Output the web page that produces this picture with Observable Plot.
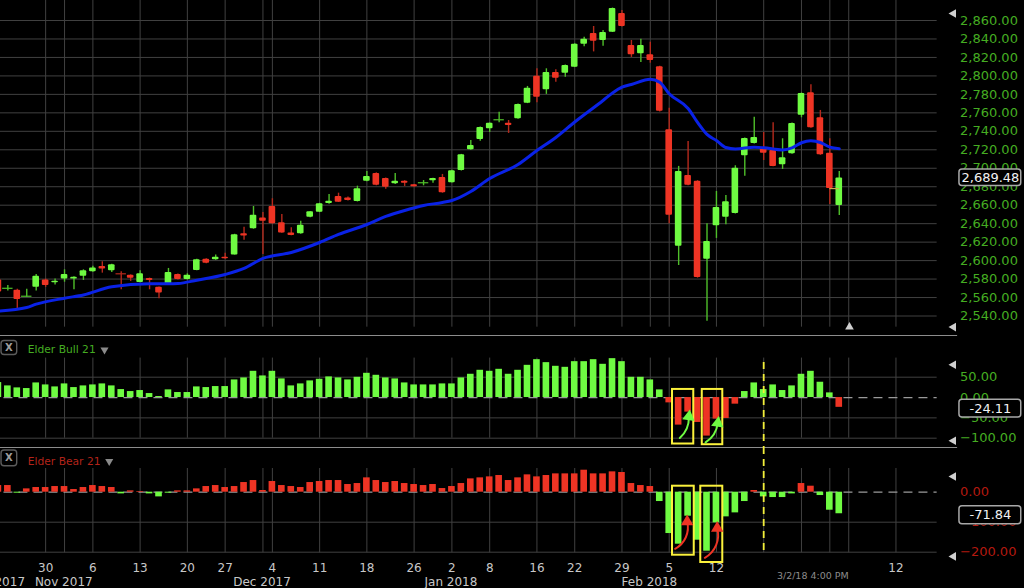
<!DOCTYPE html>
<html><head><meta charset="utf-8">
<style>html,body{margin:0;padding:0;background:#000;overflow:hidden}svg{display:block}</style>
<script src="https://cdn.jsdelivr.net/npm/d3@7"></script>
<script src="https://cdn.jsdelivr.net/npm/@observablehq/plot@0.6"></script>
</head><body><div id="chart"></div>
<script>
const opens=[2579,2569.5,2568,2560.8,2571,2579,2576,2580,2580,2583,2588,2593.6,2589,2586.8,2584,2576.3,2580.6,2571,2574,2585,2579.5,2589.3,2601.5,2601,2603.7,2606,2629,2634.5,2646,2658.6,2641,2630,2629,2647,2652.4,2661.8,2669.4,2667.8,2664,2686,2694.3,2689,2683.2,2686,2682,2683.3,2686.4,2690,2684.3,2697.6,2720,2731.2,2742.7,2751.7,2748.8,2753.6,2770.5,2799.7,2785,2803.7,2803,2809.5,2834.4,2846,2838.4,2847.4,2867.6,2833,2824,2823,2810,2741.7,2615.6,2692.2,2686,2601.5,2637.7,2647,2651,2713.5,2726.8,2721,2719.2,2703.8,2715.7,2757.5,2781.7,2754.7,2716.3,2659.7];
const highs=[2580,2573,2569,2569,2585,2580,2580,2590,2582.5,2590,2594,2598.7,2596,2588,2584.5,2589,2581,2571.5,2591.5,2585.5,2585.7,2601.5,2602,2606,2608,2628.5,2636,2658.6,2652,2667,2650,2635.5,2642.7,2653,2662,2671.6,2673,2669,2680.6,2696.5,2695,2689.5,2694.3,2686.5,2682.5,2686.7,2689.3,2693.3,2697.8,2715,2730,2744.7,2749,2760.7,2751.7,2769.5,2788.6,2807.7,2807.7,2806.6,2811.8,2834.9,2841.9,2853.5,2849.2,2873.5,2870.9,2838.4,2839.8,2836.5,2810.5,2765,2702,2729,2686.5,2640,2674.8,2670.5,2702.7,2732.7,2755.3,2738.7,2749.2,2731.9,2749,2781.5,2790.4,2762.6,2731.9,2696.5];
const lows=[2565,2567,2548,2560.4,2567,2571,2573.5,2576.6,2568.5,2578.5,2587.5,2586.4,2587,2568.4,2577.4,2576,2568.4,2558.6,2573.5,2579,2579,2589,2596.5,2600.5,2601.5,2606,2622,2634,2606.6,2639.5,2629.5,2627,2628.5,2646.5,2652,2661,2663,2664.5,2663.5,2685.5,2681,2677.3,2682.5,2680.3,2679.5,2681,2683.8,2673,2684,2697,2719.5,2729.3,2738.7,2749.2,2737.7,2753,2770,2771,2780,2793.2,2798.6,2809,2831.6,2826,2832.2,2847,2853,2820,2814.6,2813.8,2761,2640,2594.7,2681,2581,2534.4,2624,2638.8,2650.5,2691.4,2726.3,2708.4,2701.5,2698.7,2715.2,2754.7,2743.3,2714,2660.8,2648.9];
const closes=[2566,2570,2558,2561.4,2583,2573,2577.5,2585,2582,2589,2592,2591,2595.5,2585.7,2581,2585.7,2578.5,2565,2587,2579.5,2584,2601,2597,2603.7,2602,2628,2626.5,2649,2642.7,2640,2630,2627.2,2638.3,2653,2661.5,2664.3,2663.3,2665,2677.8,2691,2681.7,2679.5,2686,2683.8,2680,2684.3,2689,2673.4,2697.3,2714.6,2724.7,2744.2,2748.8,2752.5,2746.3,2769,2786.7,2777,2803.7,2797.5,2811.3,2834.4,2839.8,2837.6,2847,2873,2853.5,2823,2833,2816.7,2761.8,2649,2696.5,2681.7,2581.7,2620.7,2657.5,2663.7,2700,2732.2,2733.3,2716.3,2702,2711.3,2748.5,2781,2743.8,2714.6,2678,2689.48];
const bullPower=[36.8,28.6,23.7,22.1,35.9,31,26.1,33.5,24.5,28.6,31,33.5,28.6,19.6,14.7,17.2,9.8,2.5,18.8,12.3,12.3,26.1,24.5,27,27,43.3,48.2,64.5,53.1,64.5,45.8,28.6,33.5,40.9,44.9,50.7,48.2,43.3,49.8,59.6,54.7,48.2,45.8,35.9,31,31,31,33.5,33.5,48.2,57.2,67,64.5,69.4,57.2,67,79.2,93.1,85.8,76.8,74.3,88.2,88.2,93.1,81.7,95.6,88.2,49.8,49.8,43.3,18.8,-13.1,-67.8,-35.9,-61.3,-94.8,-53.1,-51.5,-16.3,14.7,35.9,19.6,31,17.2,28.6,57.2,64.5,37.6,11.4,-24.11];
const bearPower=[22.2,22.2,-3.3,11.1,15.6,15.6,18.9,18.9,8.9,15.6,22.2,18.9,15.6,-5.6,4.4,2.2,-5.6,-15.6,-3.3,4.4,4.4,11.1,18.9,22.2,15.6,18.9,32.2,38.9,5.6,35.6,22.2,18.9,15.6,32.2,35.6,38.9,38.9,25.6,28.9,47.8,38.9,32.2,35.6,28.9,25.6,22.2,25.6,12.2,18.9,28.9,44.4,47.8,51.1,55.6,38.9,47.8,57.8,51.1,55.6,61.1,61.1,61.1,73.3,61.1,61.1,67.8,65.6,28.9,22.2,18.9,-31.1,-137.8,-173.3,-80,-160,-196.7,-102.2,-82.2,-68.9,-31.1,5.6,-15.6,-17.8,-17.8,-5.6,28.9,20,-11.1,-60,-71.84];
const maIndex=[0,3,4,7,9,12,16,18,19,21,24,26,28,31,34,36,39,41,43,45,47,48,50,52,55,57,59,61,64,65,66,67,69,70,71,73,74,75,76,77,78,80,81,83,84,85,86,87,88,89];
const maValue=[2545.4,2549.2,2552.8,2559.3,2562.8,2571.6,2574.9,2574.9,2575.2,2578.8,2585,2591.5,2602.3,2608.8,2619.6,2628.3,2639.1,2647.8,2654.3,2659.7,2662.9,2665.1,2674.9,2688.9,2704.1,2719.2,2733.3,2750.1,2773.4,2781.5,2787.8,2790.7,2796.5,2793.2,2780.7,2764.7,2749.6,2736.6,2730,2722.5,2720.9,2722.8,2722.2,2719.8,2722,2727.6,2729.8,2727.9,2722.8,2721.1];
const priceTicks=[2860,2840,2820,2800,2780,2760,2740,2720,2700,2680,2660,2640,2620,2600,2580,2560,2540];
const bullTicks=[50,0,-50,-100];
const bearTicks=[0,-100,-200];
const gridIndex=[5,7,10,15,20,24,28,29,34,39,44,48,52,57,61,66,69,71,76,81,85,88,90,95];
const dayIndex=[5,10,15,20,24,29,34,39,44,48,52,57,61,66,71,76,95];
const dayLabels=["30","6","13","20","27","4","11","18","26","2","8","16","22","29","5","12","12"];
const monthPos=[-0.1,6.92,27.9,47.9,68.9];
const monthLabels=["Oct 2017","Nov 2017","Dec 2017","Jan 2018","Feb 2018"];

const GREEN="#6ffb42",RED="#ee3424",WG="#4fbf2a",WR="#b5291c",GRID="#404040";
const TXTG="#45ad22",TXTR="#b3190f",LBL="#c8c8c8";
const F="DejaVu Sans";
const xs=d3.range(opens.length);
const num=d3.format(",.2f");
const xOpt={domain:[0,100],range:[-2.1,942.7],axis:null};
const base={width:1024,marginTop:0,marginBottom:0,marginLeft:0,marginRight:68,style:{background:"#000",fontFamily:F,display:"block"},x:xOpt};
const XL=101.78,XE=99.36;

function labelBox(text,y1,y2,yt){return [
  Plot.rect([0],{x1:101.72,x2:108.26,y1:()=>y1,y2:()=>y2,fill:"#000",stroke:"#a8a8a8",strokeWidth:1.5,rx:3}),
  Plot.text([text],{x:105,y:()=>yt,text:d=>d,fill:"#f2f2f2",fontSize:13,fontFamily:F,textAnchor:"middle"})
];}
function tri(data,rot,fill="#cfcfcf",r=3.2){return Plot.dot(data,{x:d=>d[0],y:d=>d[1],symbol:"triangle",r,rotate:rot,fill,stroke:"none"});}
function bars(values){return [
  Plot.rect(xs,{x1:i=>i-0.35,x2:i=>i+0.35,y1:()=>0,y2:i=>values[i],fill:i=>values[i]>=0?"pos":"neg"})
];}
function gridX(y1,y2){return Plot.ruleX(gridIndex,{y1:()=>y1,y2:()=>y2,stroke:GRID,strokeWidth:1});}
function gridY(t){return Plot.ruleY(t,{x1:()=>-1,x2:()=>XE,stroke:GRID,strokeWidth:1});}
function tickText(t,fill){return Plot.text(t,{x:()=>XL,y:d=>d,text:d=>num(d),fill,fontSize:13,fontFamily:F,textAnchor:"start"});}

const main=Plot.plot({...base,height:335,
  y:{domain:[2860,2540],range:[20,315.5],axis:null},
  marks:[
    gridX(2881.7,2527.9),
    gridY(priceTicks),
    Plot.ruleX(xs,{y1:i=>lows[i],y2:i=>highs[i],stroke:i=>closes[i]>=opens[i]?WG:WR,strokeWidth:1.4}),
    Plot.ruleY(xs.filter(i=>Math.abs(opens[i]-closes[i])<1.15),{x1:i=>i-0.55,x2:i=>i+0.55,y:i=>closes[i],stroke:i=>closes[i]>=opens[i]?WG:WR,strokeWidth:1.2}),
    Plot.rect(xs.filter(i=>Math.abs(opens[i]-closes[i])>=1.15),{x1:i=>i-0.35,x2:i=>i+0.35,y1:i=>opens[i],y2:i=>closes[i],fill:i=>closes[i]>=opens[i]?GREEN:RED,rx:1}),
    Plot.ruleY([2678],{x1:()=>88,x2:()=>89,stroke:"#c9ab4c",strokeWidth:1.2}),
    Plot.line(maIndex,{x:d=>d,y:(d,i)=>maValue[i],stroke:"#0a22e6",strokeWidth:3,curve:"monotone-x"}),
    tickText(priceTicks,TXTG),
    ...labelBox("2,689.48",2698.7,2680.8,2689.48),
    tri([[101.09,2867.6]],-90),
    tri([[101.09,2528]],-90),
    tri([[90.08,2528]],0)
  ]});

const bull=Plot.plot({...base,height:112,
  y:{domain:[50,-100],range:[41.7,102.7],axis:null},
  color:{domain:["pos","neg"],range:[GREEN,RED]},
  marks:[
    Plot.frame({anchor:"top",stroke:"#8c8c8c",strokeWidth:1.2}),
    gridX(97,-100),
    gridY([50,-50,-100]),
    Plot.ruleY([0],{x1:()=>-1,x2:()=>XE,stroke:"#9a9a9a",strokeWidth:1.2,strokeDasharray:"9,6"}),
    ...bars(bullPower),
    Plot.ruleX([81],{y1:()=>86,y2:()=>-125,stroke:"#f2ee3a",strokeWidth:1.8,strokeDasharray:"7,5"}),
    Plot.rect([[71.35,73.6,19.9,-114.3],[74.5,76.67,19.9,-116]],{x1:d=>d[0],x2:d=>d[1],y1:d=>d[2],y2:d=>d[3],stroke:"#fbf13c",strokeWidth:2,fill:"none"}),
    Plot.arrow([[72.12,-99.6,73.08,-47],[74.85,-110.4,76.14,-63]],{x1:d=>d[0],y1:d=>d[1],x2:d=>d[2],y2:d=>d[3],bend:-25,stroke:GREEN,strokeWidth:2,headLength:0}),
    tri([[73.08,-47],[76.14,-63]],8,GREEN,4.6),
    tickText(bullTicks,TXTG),
    ...labelBox("-24.11",-5.4,-48.9,-27),
    Plot.rect([0],{x1:()=>0.33,x2:()=>1.99,y1:()=>138.9,y2:()=>104.5,fill:"none",stroke:"#5c5c5c",strokeWidth:1.4,rx:3}),
    Plot.text(["X"],{x:()=>1.12,y:()=>121.7,text:d=>d,fill:"#9c9c9c",fontSize:10,fontWeight:"bold",fontFamily:F}),
    Plot.text(["Elder Bull 21"],{x:()=>3.11,y:()=>117.5,text:d=>d,fill:TXTG,fontSize:10.7,fontFamily:F,textAnchor:"start"}),
    tri([[11.23,117.5]],180,"#8a8a8a",3),
    tri([[101.09,80.6],[101.09,-106.2]],-90)
  ]});

const bear=Plot.plot({...base,height:141,
  y:{domain:[0,-200],range:[44.7,104.7],axis:null},
  color:{domain:["pos","neg"],range:[RED,GREEN]},
  marks:[
    Plot.frame({anchor:"top",stroke:"#8c8c8c",strokeWidth:1.2}),
    gridX(79,-202),
    gridY([-100,-200]),
    Plot.ruleY([0],{x1:()=>-1,x2:()=>XE,stroke:"#9a9a9a",strokeWidth:1.2,strokeDasharray:"9,6"}),
    ...bars(bearPower),
    Plot.ruleX([81],{y1:()=>149,y2:()=>-201,stroke:"#f2ee3a",strokeWidth:1.8,strokeDasharray:"7,5"}),
    Plot.rect([[71.35,73.65,20,-210],[74.34,76.67,20,-234.3]],{x1:d=>d[0],x2:d=>d[1],y1:d=>d[2],y2:d=>d[3],stroke:"#fbf13c",strokeWidth:2,fill:"none"}),
    Plot.arrow([[71.63,-188.7,72.9,-98],[74.77,-218.7,76.08,-120]],{x1:d=>d[0],y1:d=>d[1],x2:d=>d[2],y2:d=>d[3],bend:-38,stroke:RED,strokeWidth:2,headLength:0}),
    tri([[72.9,-98],[76.08,-120]],0,RED,4.6),
    tickText(bearTicks,TXTR),
    ...labelBox("-71.84",-46.7,-106.7,-76.7),
    Plot.rect([0],{x1:()=>0.33,x2:()=>1.99,y1:()=>139,y2:()=>86.7,fill:"none",stroke:"#5c5c5c",strokeWidth:1.4,rx:3}),
    Plot.text(["X"],{x:()=>1.12,y:()=>113.3,text:d=>d,fill:"#9c9c9c",fontSize:10,fontWeight:"bold",fontFamily:F}),
    Plot.text(["Elder Bear 21"],{x:()=>3.11,y:()=>103.3,text:d=>d,fill:"#b3241a",fontSize:10.7,fontFamily:F,textAnchor:"start"}),
    tri([[11.73,103.3]],180,"#8a8a8a",3),
    tri([[101.09,52.3],[101.09,-214]],-90),
    Plot.text(dayIndex,{x:d=>d,y:()=>-252,text:(d,i)=>dayLabels[i],fill:LBL,fontSize:12,fontFamily:F}),
    Plot.text(monthPos,{x:d=>d,y:()=>-300,text:(d,i)=>monthLabels[i],fill:LBL,fontSize:12,fontFamily:F}),
    Plot.text(["3/2/18 4:00 PM"],{x:()=>86.2,y:()=>-277.7,text:d=>d,fill:"#8c8c8c",fontSize:9.5,fontFamily:F})
  ]});

document.getElementById("chart").append(main,bull,bear);
</script>
</body></html>
